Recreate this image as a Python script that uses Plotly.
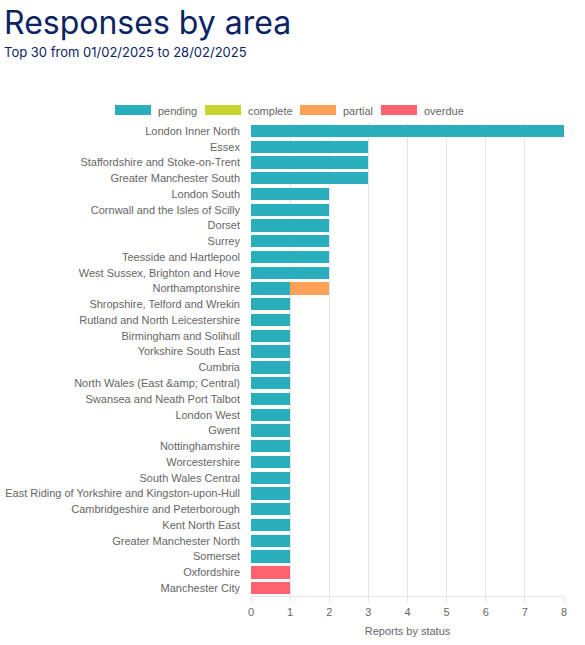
import plotly.graph_objects as go

areas = [
    "London Inner North", "Essex", "Staffordshire and Stoke-on-Trent", "Greater Manchester South",
    "London South", "Cornwall and the Isles of Scilly", "Dorset", "Surrey", "Teesside and Hartlepool",
    "West Sussex, Brighton and Hove", "Northamptonshire", "Shropshire, Telford and Wrekin",
    "Rutland and North Leicestershire", "Birmingham and Solihull", "Yorkshire South East", "Cumbria",
    "North Wales (East &amp; Central)", "Swansea and Neath Port Talbot", "London West", "Gwent",
    "Nottinghamshire", "Worcestershire", "South Wales Central",
    "East Riding of Yorkshire and Kingston-upon-Hull", "Cambridgeshire and Peterborough",
    "Kent North East", "Greater Manchester North", "Somerset", "Oxfordshire", "Manchester City",
]
pending = [8, 3, 3, 3, 2, 2, 2, 2, 2, 2, 1, 1, 1, 1, 1, 1, 1, 1, 1, 1, 1, 1, 1, 1, 1, 1, 1, 1, 0, 0]
complete = [0] * 30
partial = [0, 0, 0, 0, 0, 0, 0, 0, 0, 0, 1, 0, 0, 0, 0, 0, 0, 0, 0, 0, 0, 0, 0, 0, 0, 0, 0, 0, 0, 0]
overdue = [0, 0, 0, 0, 0, 0, 0, 0, 0, 0, 0, 0, 0, 0, 0, 0, 0, 0, 0, 0, 0, 0, 0, 0, 0, 0, 0, 0, 1, 1]
x_ticks = [0, 1, 2, 3, 4, 5, 6, 7, 8]

series = [("pending", pending, "#29AFBB"), ("complete", complete, "#C6D42F"),
          ("partial", partial, "#FFA156"), ("overdue", overdue, "#FF636F")]

# plot area in pixels
L, R, T, B = 251, 564, 123, 596
W, H = 585, 645

def px(x):
    return (x - L) / (R - L)

def py(y):
    return (B - y) / (B - T)

fig = go.Figure()
for name, vals, col in series:
    fig.add_trace(go.Bar(
        y=list(range(len(areas))), x=vals, name=name, orientation="h",
        marker=dict(color=col, line=dict(width=0)), showlegend=False,
    ))

ticktext = [a.replace("&", "&amp;") for a in areas]

fig.update_layout(
    width=W, height=H, barmode="stack", bargap=0.22, showlegend=False,
    margin=dict(l=L, r=W - R, t=T, b=H - B, pad=0, autoexpand=False),
    paper_bgcolor="white", plot_bgcolor="white",
    font=dict(family="Liberation Sans, Arial, sans-serif", size=11, color="#666666"),
    xaxis=dict(range=[0, 8], tickvals=x_ticks, showgrid=True, gridcolor="#e6e6e6", gridwidth=1,
               zeroline=False, showline=True, linecolor="#e6e6e6", ticks="outside", automargin=False,
               ticklen=6, tickcolor="#e6e6e6", tickfont=dict(size=11, color="#666666"),
               title=dict(text="Reports by status", font=dict(size=11, color="#666666"), standoff=10)),
    yaxis=dict(tickvals=list(range(len(areas))), ticktext=ticktext, autorange=False,
               range=[len(areas) - 0.5, -0.5], showgrid=False, zeroline=False, showline=False,
               automargin=False, ticks="", ticklabelstandoff=10, tickfont=dict(size=11, color="#666666")),
)

# custom legend (wide boxes)
legend_pos = [(115, "pending"), (205, "complete"), (300, "partial"), (381, "overdue")]
for (x0, name), (_, _, col) in zip(legend_pos, series):
    fig.add_shape(type="rect", xref="paper", yref="paper",
                  x0=px(x0), x1=px(x0 + 36), y0=py(115), y1=py(105),
                  fillcolor=col, line=dict(width=0))
    fig.add_annotation(xref="paper", yref="paper", x=px(x0 + 41), y=py(110.5),
                       text=name, showarrow=False, xanchor="left", yanchor="middle",
                       font=dict(size=11, color="#666666"))

fig.add_annotation(xref="paper", yref="paper", x=px(2), y=py(22), text="Responses by area",
                   showarrow=False, xanchor="left", yanchor="middle",
                   font=dict(family="Inter, sans-serif", size=32, color="#0B2463"))
fig.add_annotation(xref="paper", yref="paper", x=px(2), y=py(52), text="Top 30 from 01/02/2025 to 28/02/2025",
                   showarrow=False, xanchor="left", yanchor="middle",
                   font=dict(family="Inter, sans-serif", size=13, color="#0B2463"))

fig.write_html("out.html", config={"displayModeBar": False},
               post_script="document.body.style.margin='0';")
